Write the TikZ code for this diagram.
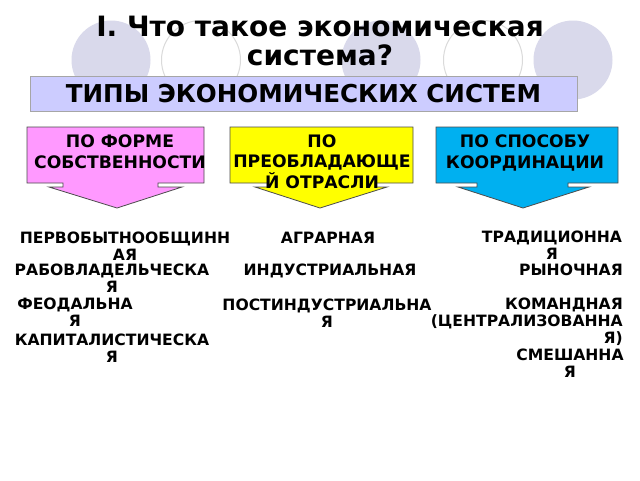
\documentclass[tikz,border=0pt]{standalone}
\usepackage{fontspec}
\setmainfont{DejaVu Sans}
\definecolor{discgray}{HTML}{D9D9EB}
\definecolor{ringgray}{HTML}{DADADA}
\definecolor{headblue}{HTML}{CCCCFF}
\definecolor{formpink}{HTML}{FF99FF}
\definecolor{branchyellow}{HTML}{FFFF00}
\definecolor{coordblue}{HTML}{00B0F0}
\tikzset{
  disc/.style = {fill=discgray},
  ring/.style = {draw=ringgray, line width=1pt, fill=white},
  heading/.style = {font=\fontsize{28}{29}\selectfont\bfseries, align=center, anchor=base, inner sep=0pt},
  header/.style = {draw=black!35, fill=headblue, minimum width=547pt, minimum height=35pt,
    inner sep=0pt, font=\fontsize{24.6}{26}\selectfont\bfseries},
  arrowbox/.style = {draw=black!70, line width=0.8pt},
  boxtext/.style = {font=\fontsize{17.2}{20.5}\selectfont\bfseries, align=center, anchor=base, inner sep=0pt},
  entry/.style = {font=\fontsize{15.6}{17}\selectfont\bfseries, align=center, anchor=base, inner sep=0pt}
}

\begin{document}
\begin{tikzpicture}[x=1pt, y=-1pt]
  \useasboundingbox[fill=white] (0,0) rectangle (640,480);

  \foreach \cx in {111,381,573}
    \fill[disc] (\cx,60) circle (39.5);
  \foreach \cx in {201,483}
    \draw[ring] (\cx,60) circle (39.5);

  \node[heading] (title) at (320,65) {I. Что такое экономическая\\система?};
  \node[header] (types) at (303.5,93.5) {ТИПЫ ЭКОНОМИЧЕСКИХ СИСТЕМ};

  \foreach \l/\r/\sl/\sr/\hl/\hr/\t/\tx/\ty/\col/\nm/\txt in {
      27/204/63/158/49/182/117/120/168/formpink/form/{ПО ФОРМЕ\\СОБСТВЕННОСТИ},
      230/413/268/375/255/387/320/322/188/branchyellow/branch/{ПО\\ПРЕОБЛАДАЮЩЕ\\Й ОТРАСЛИ},
      436/618/477/568/458/589/523/525/168/coordblue/coord/{ПО СПОСОБУ\\КООРДИНАЦИИ}}
  {
    \draw[arrowbox, fill=\col] (\l,127) -- (\r,127) -- (\r,183) -- (\sr,183) -- (\sr,187)
      -- (\hr,187) -- (\t,208) -- (\hl,187) -- (\sl,187) -- (\sl,183) -- (\l,183) -- cycle;
    \node[boxtext] (\nm) at (\tx,\ty) {\txt};
  }

  \node[entry] (primitive) at (125,260) {ПЕРВОБЫТНООБЩИНН\\АЯ};
  \node[entry] (slave) at (112,292) {РАБОВЛАДЕЛЬЧЕСКА\\Я};
  \node[entry] (feudal) at (75,326) {ФЕОДАЛЬНА\\Я};
  \node[entry] (capital) at (112,362) {КАПИТАЛИСТИЧЕСКА\\Я};

  \node[entry] (agrarian) at (328,243) {АГРАРНАЯ};
  \node[entry] (industrial) at (330,275) {ИНДУСТРИАЛЬНАЯ};
  \node[entry] (postind) at (327,327) {ПОСТИНДУСТРИАЛЬНА\\Я};

  \node[entry] (traditional) at (552,259) {ТРАДИЦИОННА\\Я};
  \node[entry, anchor=base east] (market) at (623,275) {РЫНОЧНАЯ};
  \node[entry, align=right, anchor=base east] (command) at (623,343) {КОМАНДНАЯ\\(ЦЕНТРАЛИЗОВАННА\\Я)};
  \node[entry] (mixed) at (570,377) {СМЕШАННА\\Я};
\end{tikzpicture}
\end{document}
